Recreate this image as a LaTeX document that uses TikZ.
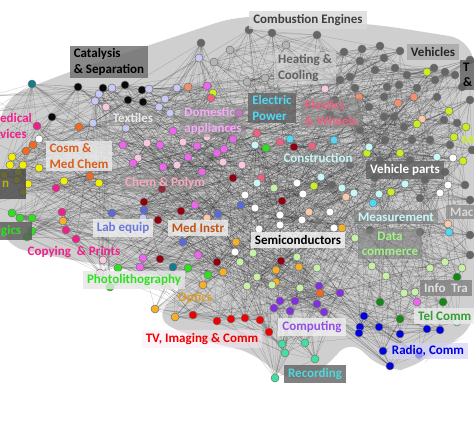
\documentclass[tikz,border=0pt]{standalone}
\usepackage{fontspec}
\setmainfont{Carlito}
\usetikzlibrary{backgrounds}

% node colours
\definecolor{cBlk}{HTML}{0A0A0A}
\definecolor{cTeal}{HTML}{107E90}
\definecolor{cLav}{HTML}{C8C8F5}
\definecolor{cLpink}{HTML}{F8C8E0}
\definecolor{cMag}{HTML}{EE66EE}
\definecolor{cHpink}{HTML}{F0208A}
\definecolor{cOrng}{HTML}{F06A20}
\definecolor{cYel}{HTML}{F5F000}
\definecolor{cGrn}{HTML}{30E020}
\definecolor{cDred}{HTML}{900010}
\definecolor{cBlueA}{HTML}{5A6AD8}
\definecolor{cGold}{HTML}{F5B02A}
\definecolor{cRed}{HTML}{F00000}
\definecolor{cPurp}{HTML}{8030E0}
\definecolor{cSpg}{HTML}{40E0A0}
\definecolor{cBlue}{HTML}{0000E0}
\definecolor{cDgrn}{HTML}{108A10}
\definecolor{cLgrn}{HTML}{C8F0A8}
\definecolor{cCyan}{HTML}{50D8F5}
\definecolor{cLcyan}{HTML}{C8F8F8}
\definecolor{cYgrn}{HTML}{C8F020}
\definecolor{cGray}{HTML}{666666}
\definecolor{cLgray}{HTML}{B4B4B4}
\definecolor{cSalm}{HTML}{F09070}
\definecolor{cPeach}{HTML}{F8C8A8}
\definecolor{cRose}{HTML}{F06080}
\definecolor{cMint}{HTML}{B0E8D0}

\newcommand{\lblfont}{\bfseries\fontsize{13}{15.5}\selectfont}

\tikzset{
  dot/.style={circle,inner sep=0pt,minimum size=8pt,draw=black!55,line width=0.5pt},
  link/.style={draw=black!85,line width=0.25pt,opacity=0.3},
  lbl/.style={font=\lblfont,align=left,inner xsep=4pt,inner ysep=3pt},
  box/.style={fill=#1,fill opacity=0.8,text opacity=1},
}

\begin{document}
\begin{tikzpicture}[x=1pt,y=-1pt]
  \useasboundingbox (0,0) rectangle (474,430);
  \clip (0,0) rectangle (474,430);

  % network nodes, x/y/colour
  \foreach \x/\y/\c [count=\i] in {
    32/84/cTeal, 52/117/cBlk, 78/87/cBlk, 79/127/cOrng, 37/126/cHpink, 39/139/white,
    26/151/cOrng, 33/145/cOrng, 12/157/cYel, 10/165/cYel, 23/165/cYel, 39/168/cYel,
    18/172/cYel, 17/180/cYel, 4/175/cYel, 28/184/cYel, 23/192/cYel, 64/181/cYel,
    56/188/cHpink, 90/176/cOrng, 99/183/cYel, 12/213/cGrn, 20/218/cGrn, 32/218/cGrn,
    32/231/cGrn, 27/237/cGrn, 62/212/cHpink, 63/221/cGold, 66/230/cHpink, 76/239/cHpink,
    103/260/cLpink, 100/273/cLpink, 110/287/cGrn,
    99/94/cLav, 95/101/cLav, 93/123/cLav, 103/88/cBlk, 112/88/cLav, 106/107/cLpink,
    125/85/cBlk, 128/100/cBlk, 142/90/cBlk, 143/102/cBlk, 149/89/cLav, 159/107/cLav,
    165/99/cLav, 170/113/cLav, 177/88/cLav, 188/87/cSalm, 199/58/cLav, 201/43/cGray,
    207/86/cMag, 213/93/cYgrn, 211/98/cRose, 126/128/cLav, 123/145/cMag, 138/158/cLpink,
    133/163/cMag, 147/143/cLpink, 160/145/cMag, 163/167/cMag, 173/131/cMag, 177/165/cLpink,
    183/142/cLpink, 188/157/cMag, 197/146/cMag, 202/172/cMag, 207/137/cLpink, 217/153/cMag,
    223/162/cLpink, 224/149/cMag, 233/139/cMag, 239/113/cMag, 230/128/cMag,
    144/202/cDred, 162/189/cDred, 181/211/cDred, 158/220/cDred, 233/178/cDred, 112/213/cBlueA,
    144/210/cBlueA, 143/218/cLav, 183/242/cBlueA, 207/218/cPeach, 218/214/cBlueA, 195/205/cMag,
    160/259/cDred, 217/262/cDred, 198/255/cMag, 143/258/cMag, 140/267/cMag, 118/268/cGrn,
    173/267/cTeal, 188/268/cGrn, 208/275/cGrn, 203/285/cGold, 223/272/cGold, 236/242/cGold,
    155/309/cGold, 175/317/cGold, 193/315/cRed, 217/321/cRed, 231/319/cRed, 245/318/cRed,
    260/320/cRed, 269/332/cRed, 235/252/white,
    242/165/cLpink, 255/145/cLcyan, 257/133/cRose, 266/148/cGrn, 280/142/cRose, 290/139/cCyan,
    294/147/cDred, 312/146/cRose, 334/140/cCyan, 261/178/cRose, 257/183/cLcyan, 274/188/cLgrn,
    297/183/white, 303/194/white, 245/195/white, 241/205/cBlueA, 255/208/white, 282/201/cDred,
    314/186/cYgrn, 321/177/cLcyan, 332/185/cGray, 342/188/cLcyan, 346/197/cPeach, 354/193/cLcyan,
    302/220/white, 309/212/cPeach, 280/215/white, 280/225/white, 259/229/white, 334/228/white,
    342/228/cGold, 330/212/white, 253/253/cLgrn, 281/261/cDred, 297/257/cLgrn, 276/270/cGold,
    299/267/cGold, 317/268/cLgrn, 257/277/cLgrn, 240/262/cLgrn, 276/282/cGold, 247/286/cLgrn,
    272/285/cLgrn, 300/288/cLgrn, 319/286/cPurp, 320/293/cOrng, 280/301/cPurp, 295/301/cPurp,
    340/293/cPurp, 317/304/cPurp, 274/308/cPurp, 290/311/cPurp, 324/312/cPurp,
    282/344/cSpg, 305/343/cSpg, 285/353/cSpg, 315/359/cSpg, 275/378/cSpg, 355/238/cLgrn,
    249/30/cGray, 272/33/cGray, 317/35/cGray, 230/50/cLgray, 214/62/cLgray, 286/45/cLgray,
    300/62/cLgray, 322/55/cLgray, 247/82/cLgray, 265/78/cLgray, 340/80/cGray, 325/89/cLpink,
    344/52/cGray, 362/49/cGray, 380/46/cGray, 400/51/cGray, 384/58/cGray, 360/61/cGray,
    350/77/cGray, 375/70/cGray, 395/68/cGray, 407/75/cGray, 427/72/cYgrn, 434/68/cGray,
    445/72/cGray, 455/75/cGray, 435/80/cGray, 470/60/cGray, 387/87/cGray, 399/85/cGray,
    417/88/cGray, 462/87/cGray, 359/97/cSalm, 398/103/cSalm, 414/97/cSalm, 384/97/cGray,
    369/107/cGray, 384/117/cGray, 394/117/cGray, 404/127/cGray, 422/119/cPeach, 417/124/cYgrn,
    437/97/cGray, 449/111/cYgrn, 444/120/cGray, 457/123/cGray, 466/127/cYgrn, 470/100/cGray,
    454/137/cYgrn, 472/150/cGray, 430/140/cGray, 412/140/cGray, 385/140/cGray, 360/130/cGray,
    345/120/cGray, 330/115/cGray, 335/100/cGray, 355/88/cGray,
    367/153/cYgrn, 369/147/cLcyan, 380/160/cGray, 400/153/cYgrn, 410/160/cGray, 437/157/cLcyan,
    453/158/white, 463/161/cYgrn, 450/145/cGray, 350/165/cGray, 375/178/cGray, 395/172/cGray,
    425/180/cGray, 445/172/cGray, 465/185/cGray, 379/194/cLcyan, 391/192/cYgrn, 373/203/cCyan,
    405/184/cLcyan, 448/185/white, 440/193/white, 420/198/cGray, 470/200/cGray, 400/220/cGray,
    448/224/cPeach, 449/232/cCyan, 470/235/cGray, 420/232/cGray, 370/230/cGray, 470/255/cGray,
    372/266/cLgrn, 386/276/cLgrn, 430/268/cLgrn, 445/262/cLgrn, 462/268/cLgrn, 457/277/cDgrn,
    404/293/cLgrn, 415/292/cLgrn, 380/302/cDgrn, 417/302/cMag, 443/302/cDgrn, 400/319/cDgrn,
    457/322/cMint, 364/316/cBlue, 360/327/cBlue, 359/333/cBlue, 379/327/cBlue, 400/334/cBlue,
    427/329/cBlue, 440/330/cBlue, 383/351/cBlue, 390/366/cBlue, 419/355/cBlue}
  {
    \node[dot,fill=\c] (n\i) at (\x,\y) {};
    \xdef\nTotal{\i}
  }

  % loose ends running off the left edge
  \coordinate (wA) at (-10,96);
  \coordinate (wB) at (-10,112);
  \coordinate (wC) at (-10,140);
  \coordinate (wD) at (-10,205);

  \begin{pgfonlayer}{background}
    \fill[gray!38,rounded corners=25pt] (0,100) -- (60,75) -- (150,45) -- (240,15)
      -- (380,25) -- (474,40) -- (474,335) -- (440,345) -- (420,368) -- (380,372)
      -- (350,335) -- (325,372) -- (285,385) -- (262,355) -- (200,340) -- (150,318)
      -- (175,298) -- (190,282) -- (120,268) -- (60,258) -- (0,245) -- cycle;
    \foreach \i in {1,...,\nTotal} {
      \pgfmathtruncatemacro\ja{mod(\i,\nTotal)+1}
      \pgfmathtruncatemacro\jb{mod(\i+1,\nTotal)+1}
      \pgfmathtruncatemacro\jc{mod(\i+3,\nTotal)+1}
      \pgfmathtruncatemacro\jd{mod(\i*7+2,\nTotal)+1}
      \pgfmathtruncatemacro\je{mod(\i*19+5,\nTotal)+1}
      \pgfmathtruncatemacro\jf{mod(\i+5,\nTotal)+1}
      \pgfmathtruncatemacro\jg{mod(\i*11+1,\nTotal)+1}
      \pgfmathtruncatemacro\jh{mod(\i*29+7,\nTotal)+1}
      \draw[link] (n\i) -- (n\ja) (n\i) -- (n\jb) (n\i) -- (n\jc)
        (n\i) -- (n\jd) (n\i) -- (n\je) (n\i) -- (n\jf)
        (n\i) -- (n\jg) (n\i) -- (n\jh);
    }
    \foreach \w in {wA,wB,wC,wD}
      \foreach \j in {1,3,34,52,160,190}
        \draw[link] (\w) -- (n\j);
  \end{pgfonlayer}

  % cluster labels
  \node[lbl,box=gray!30,text=black!75] (combust) at (308,20) {Combustion Engines};
  \node[lbl,box=black!58,text=black] (catal) at (109,62) {Catalysis\\\& Separation};
  \node[lbl,box=white!70!gray,fill opacity=0.5,text=black!62] (heating) at (305,68) {Heating \&\\Cooling};
  \node[lbl,box=black!35,text=black!85] (vehic) at (433,52) {Vehicles};
  \node[lbl,box=black!62,text=black,anchor=west,inner xsep=3pt] (transp) at (460,75) {T\\\&};
  \node[lbl,text=cHpink,anchor=west,inner xsep=0pt] (meddev) at (0,126) {edical\\vices};
  \node[lbl,box=black!45,fill opacity=0.35,text=black!8] (textil) at (133,118) {Textiles};
  \node[lbl,box=black!45,fill opacity=0.45,text=cMag!55!white] (domest) at (213,121) {Domestic\\appliances};
  \node[lbl,box=black!62,text=cCyan] (elec) at (272,108) {Electric\\Power};
  \node[lbl,box=black!50,fill opacity=0.45,text=cRose] (plast) at (331,113) {Plastics\\\& Wheels};
  \node[lbl,box=black!8,text=cOrng!90!black] (cosm) at (79,156) {Cosm \&\\Med Chem};
  \node[lbl,box=black!50,fill opacity=0.35,text=cLpink!85!red] (chem) at (165,183) {Chem \& Polym};
  \node[lbl,box=black!72,text=cYel!75!black,anchor=west,inner xsep=2pt,text width=22pt,minimum height=30pt] (nutr) at (0,184) {n};
  \node[lbl,box=black!65,text=cGrn,anchor=west,inner xsep=1pt,text width=30pt] (biolog) at (0,231) {gics};
  \node[lbl,box=black!6,text=cBlueA!90!white] (labeq) at (123,228) {Lab equip};
  \node[lbl,box=black!6,text=cOrng!80!black] (medins) at (198,228) {Med Instr};
  \node[lbl,text=cHpink] (copy) at (74,252) {Copying~~\& Prints};
  \node[lbl,box=black!10,text=cGrn] (photo) at (134,280) {Photolithography};
  \node[lbl,text=cGold!90!black] (optics) at (195,298) {Optics};
  \node[lbl,box=cLpink!40!white,fill opacity=0.5,text=cRed] (tvimg) at (202,339) {TV, Imaging \& Comm};
  \node[lbl,box=black!6,text=cPurp!85!white] (comput) at (312,327) {Computing};
  \node[lbl,box=black!62,text=cCyan!70!cSpg] (record) at (315,374) {Recording};
  \node[lbl,box=cLav!80!white,fill opacity=0.7,text=cBlue] (radio) at (428,351) {Radio, Comm};
  \node[lbl,box=black!8,text=cDgrn!85!white,anchor=west] (telcom) at (414,316) {Tel Comm};
  \node[lbl,box=black!50,text=black!12,anchor=west] (infotr) at (420,288) {Info~~Tra};
  \node[lbl,box=black!50,fill opacity=0.6,text=cLgrn!80!green,align=center] (datac) at (390,244) {Data\\commerce};
  \node[lbl,box=black!50,fill opacity=0.6,text=cLcyan] (measur) at (396,217) {Measurement};
  \node[lbl,box=black!45,text=black!15,anchor=west] (machin) at (446,212) {Mac};
  \node[lbl,box=black!4,text=black] (semic) at (298,240) {Semiconductors};
  \node[lbl,box=black!62,text=white] (vparts) at (405,170) {Vehicle parts};
  \node[lbl,box=black!45,fill opacity=0.3,text=cLcyan] (constr) at (318,158) {Construction};
  \node[lbl,text=cYgrn,anchor=east,inner xsep=0pt] (mlabel) at (474,140) {M};
\end{tikzpicture}
\end{document}
